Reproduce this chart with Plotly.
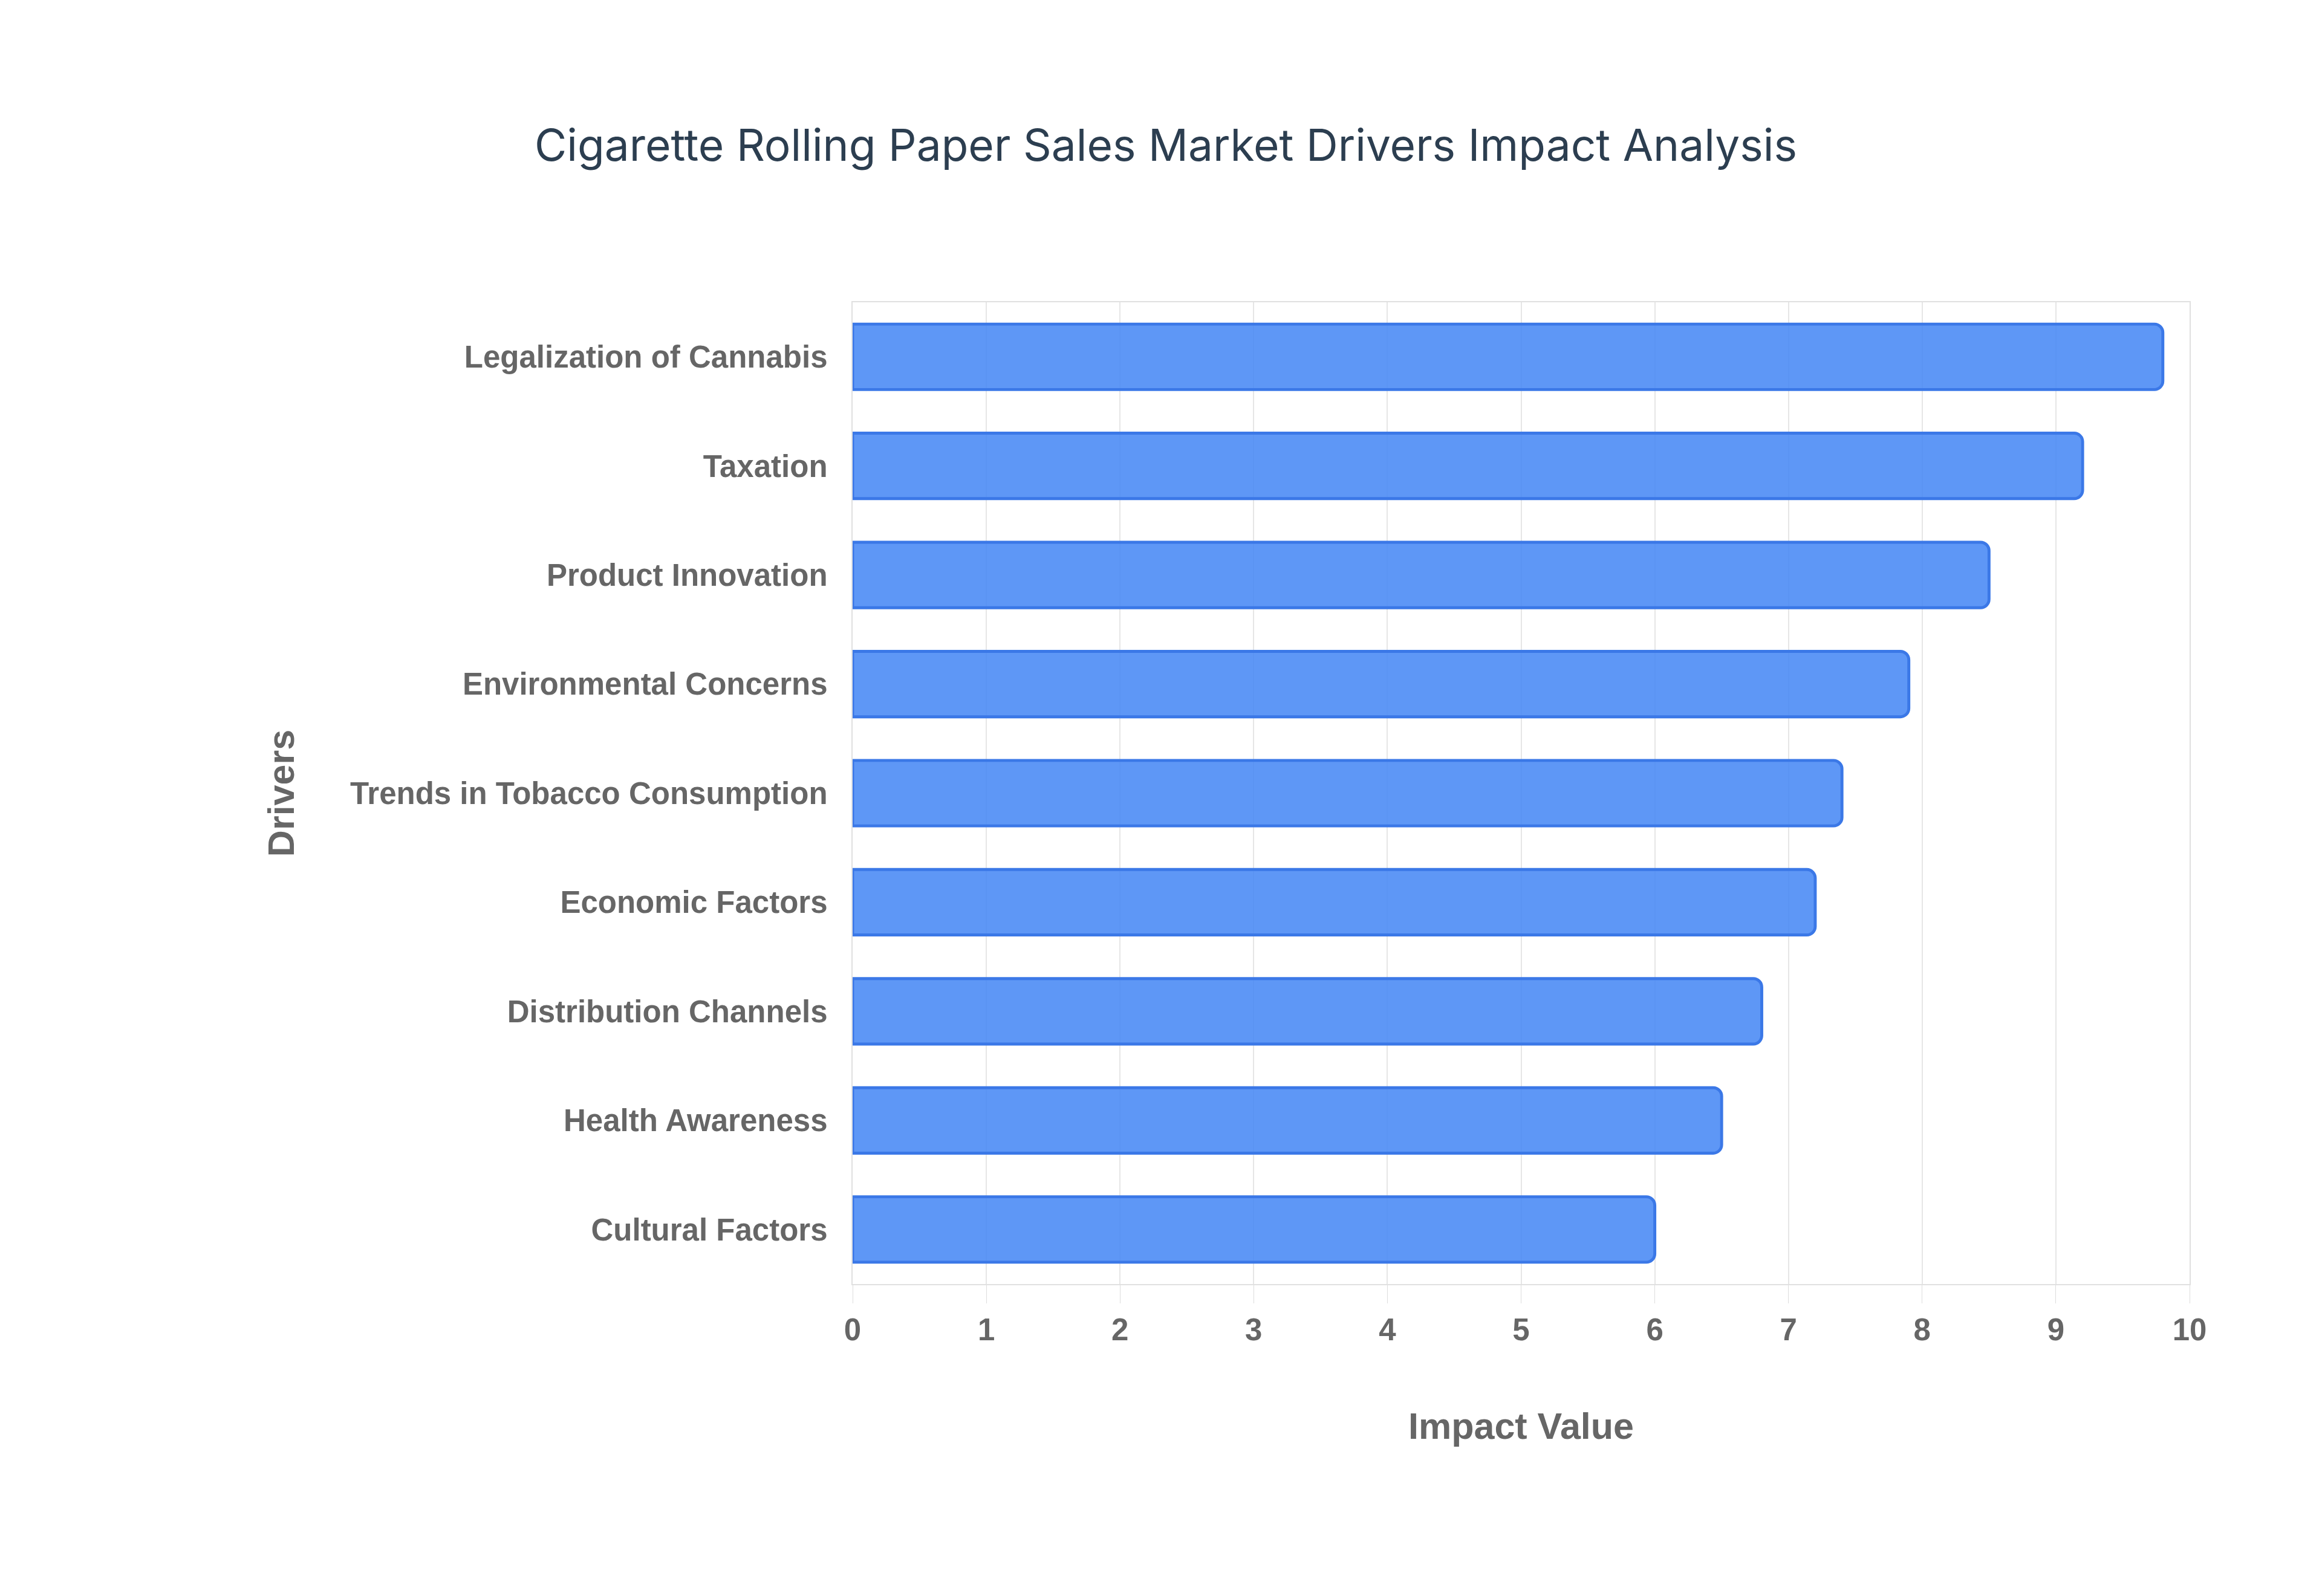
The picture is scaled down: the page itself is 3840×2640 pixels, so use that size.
import plotly.graph_objects as go

drivers = ['Cultural Factors', 'Health Awareness', 'Distribution Channels', 'Economic Factors',
           'Trends in Tobacco Consumption', 'Environmental Concerns', 'Product Innovation',
           'Taxation', 'Legalization of Cannabis']
impact = [6.0, 6.5, 6.8, 7.2, 7.4, 7.9, 8.5, 9.2, 9.8]

k = 2.46
fig = go.Figure(go.Bar(x=impact, y=drivers, orientation='h',
                       marker=dict(color='rgba(66,133,244,0.85)',
                                   line=dict(color='#3b78e7', width=2*k)),
                       width=0.6))
fig.update_layout(
    width=3840, height=2640,
    barcornerradius=int(6*k),
    paper_bgcolor='white', plot_bgcolor='white',
    title=dict(text='Cigarette Rolling Paper Sales Market Drivers Impact Analysis',
               x=0.5, xanchor='center', y=0.912, yanchor='middle',
               font=dict(family='Inter, Noto Sans', size=int(30*k), color='#2c3e50')),
    margin=dict(l=1402, r=227, t=492, b=524),
    showlegend=False,
)
fig.update_xaxes(range=[0, 10], dtick=1, showgrid=True, gridcolor='#e6e6e6', gridwidth=k,
                 showline=True, linecolor='#e0e0e0', linewidth=k, mirror=True,
                 ticks='outside', ticklen=12*k, tickcolor='#dddddd',
                 tickfont=dict(family='Liberation Sans, Arial', size=int(21*k), color='#666666', weight='bold'),
                 title=dict(text='Impact Value', standoff=int(45*k),
                            font=dict(family='Liberation Sans, Arial', size=int(25*k), color='#666666', weight='bold')),
                 zeroline=False)
fig.update_yaxes(showline=True, linecolor='#e0e0e0', linewidth=k, mirror=True,
                 ticks='', ticklabelstandoff=int(12*k),
                 tickfont=dict(family='Liberation Sans, Arial', size=int(21*k), color='#666666', weight='bold'),
                 title=dict(text='Drivers', standoff=int(30*k),
                            font=dict(family='Liberation Sans, Arial', size=int(25*k), color='#666666', weight='bold')))
fig.write_html("out.html")
